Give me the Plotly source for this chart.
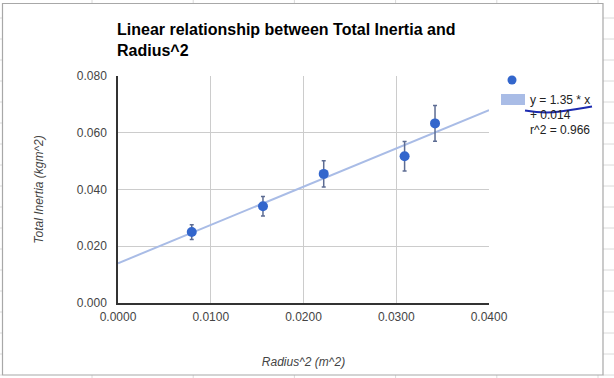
import plotly.graph_objects as go

# ---- data ----
radius_sq = [0.00795, 0.01563, 0.02218, 0.0309, 0.03418]
inertia = [0.0250, 0.0341, 0.0455, 0.0517, 0.0633]
inertia_err = [0.0026, 0.0034, 0.0046, 0.0052, 0.0063]
slope = 1.35
intercept = 0.014
r2 = 0.966
x_ticks = [0.0, 0.01, 0.02, 0.03, 0.04]
y_ticks = [0.0, 0.02, 0.04, 0.06, 0.08]

W, H = 614, 378
L, R, T, B = 118, 125, 76, 75
PW, PH = W - L - R, H - T - B

def px(xp):
    return (xp - L) / PW

def py(yp):
    return (H - B - yp) / PH

FONT = "Liberation Sans, Arial, sans-serif"

fig = go.Figure()

trend_x = [x_ticks[0], x_ticks[-1]]
trend_y = [slope * v + intercept for v in trend_x]
fig.add_trace(go.Scatter(
    x=trend_x, y=trend_y, mode="lines",
    line=dict(color="#a9bce6", width=2), showlegend=False, hoverinfo="skip"))

fig.add_trace(go.Scatter(
    x=radius_sq, y=inertia, mode="markers",
    marker=dict(color="#3366cc", size=10),
    error_y=dict(type="data", array=inertia_err, visible=True,
                 color="#5d6c93", thickness=1.5, width=2),
    showlegend=False))

shapes = []
# spreadsheet grid around the chart frame
for k in range(18):
    yy = 18 + 21 * k
    shapes.append(dict(type="line", xref="paper", yref="paper",
                       x0=px(603), x1=px(614), y0=py(yy), y1=py(yy),
                       line=dict(color="#dadada", width=1), layer="below"))
    shapes.append(dict(type="line", xref="paper", yref="paper",
                       x0=px(0), x1=px(2), y0=py(yy), y1=py(yy),
                       line=dict(color="#dadada", width=1), layer="below"))
for k in range(6):
    xx = 92 + 101.2 * k
    shapes.append(dict(type="line", xref="paper", yref="paper",
                       x0=px(xx), x1=px(xx), y0=py(0), y1=py(3),
                       line=dict(color="#dadada", width=1), layer="below"))
    shapes.append(dict(type="line", xref="paper", yref="paper",
                       x0=px(xx), x1=px(xx), y0=py(375), y1=py(378),
                       line=dict(color="#dadada", width=1), layer="below"))
# chart frame
shapes.append(dict(type="rect", xref="paper", yref="paper",
                   x0=px(2.5), x1=px(603), y0=py(375), y1=py(3.5),
                   line=dict(color="#a8a8a8", width=1.2), layer="below"))
# legend marker & swatch
shapes.append(dict(type="circle", xref="paper", yref="paper",
                   x0=px(507.5), x1=px(516.5), y0=py(84.5), y1=py(75.5),
                   fillcolor="#3366cc", line=dict(width=0)))
shapes.append(dict(type="rect", xref="paper", yref="paper",
                   x0=px(501), x1=px(525), y0=py(105), y1=py(94),
                   fillcolor="#a9bce6", line=dict(width=0)))
# hand-drawn underline
shapes.append(dict(type="path", xref="paper", yref="paper",
                   path=f"M {px(525)},{py(110.5)} Q {px(545)},{py(114)} {px(560)},{py(111.5)} "
                        f"Q {px(578)},{py(109)} {px(592)},{py(106.5)}",
                   line=dict(color="#1d2bb0", width=2)))

annotations = []
legend_lines = [f"y = {slope} * x", f"+ {intercept}", f"r^2 = {r2}"]
for i, txt in enumerate(legend_lines):
    annotations.append(dict(xref="paper", yref="paper", x=px(528), y=py(100 + 15 * i),
                            xanchor="left", yanchor="middle", text=txt, showarrow=False,
                            font=dict(family=FONT, size=12, color="#222222")))

fig.update_layout(
    width=W, height=H,
    margin=dict(l=L, r=R, t=T, b=B),
    paper_bgcolor="white", plot_bgcolor="white",
    title=dict(text="<b>Linear relationship between Total Inertia and<br>Radius^2</b>",
               xref="container", yref="container", x=117 / W, xanchor="left",
               y=1 - 35 / H, yanchor="top",
               font=dict(family=FONT, size=16, color="#000000")),
    xaxis=dict(range=[x_ticks[0], x_ticks[-1]], tickvals=x_ticks, tickformat=".4f",
               showgrid=True, gridcolor="#cccccc", gridwidth=1,
               showline=True, linecolor="#333333", linewidth=1.5,
               zeroline=False, ticks="", ticklabelstandoff=2,
               tickfont=dict(family=FONT, size=12, color="#444444"),
               title=dict(text="Radius^2 (m^2)", standoff=34,
                          font=dict(family=FONT, size=12, color="#444444", style="italic"))),
    yaxis=dict(range=[y_ticks[0], y_ticks[-1]], tickvals=y_ticks, tickformat=".3f",
               showgrid=True, gridcolor="#cccccc", gridwidth=1,
               showline=True, linecolor="#333333", linewidth=1.5,
               zeroline=False, ticks="", ticklabelstandoff=7,
               tickfont=dict(family=FONT, size=12, color="#444444"),
               title=dict(text="Total Inertia (kgm^2)", standoff=31,
                          font=dict(family=FONT, size=12, color="#444444", style="italic"))),
    shapes=shapes, annotations=annotations,
)

fig.write_html("out.html", config={"displayModeBar": False},
               post_script="document.body.style.margin='0';document.body.style.overflow='hidden';")
